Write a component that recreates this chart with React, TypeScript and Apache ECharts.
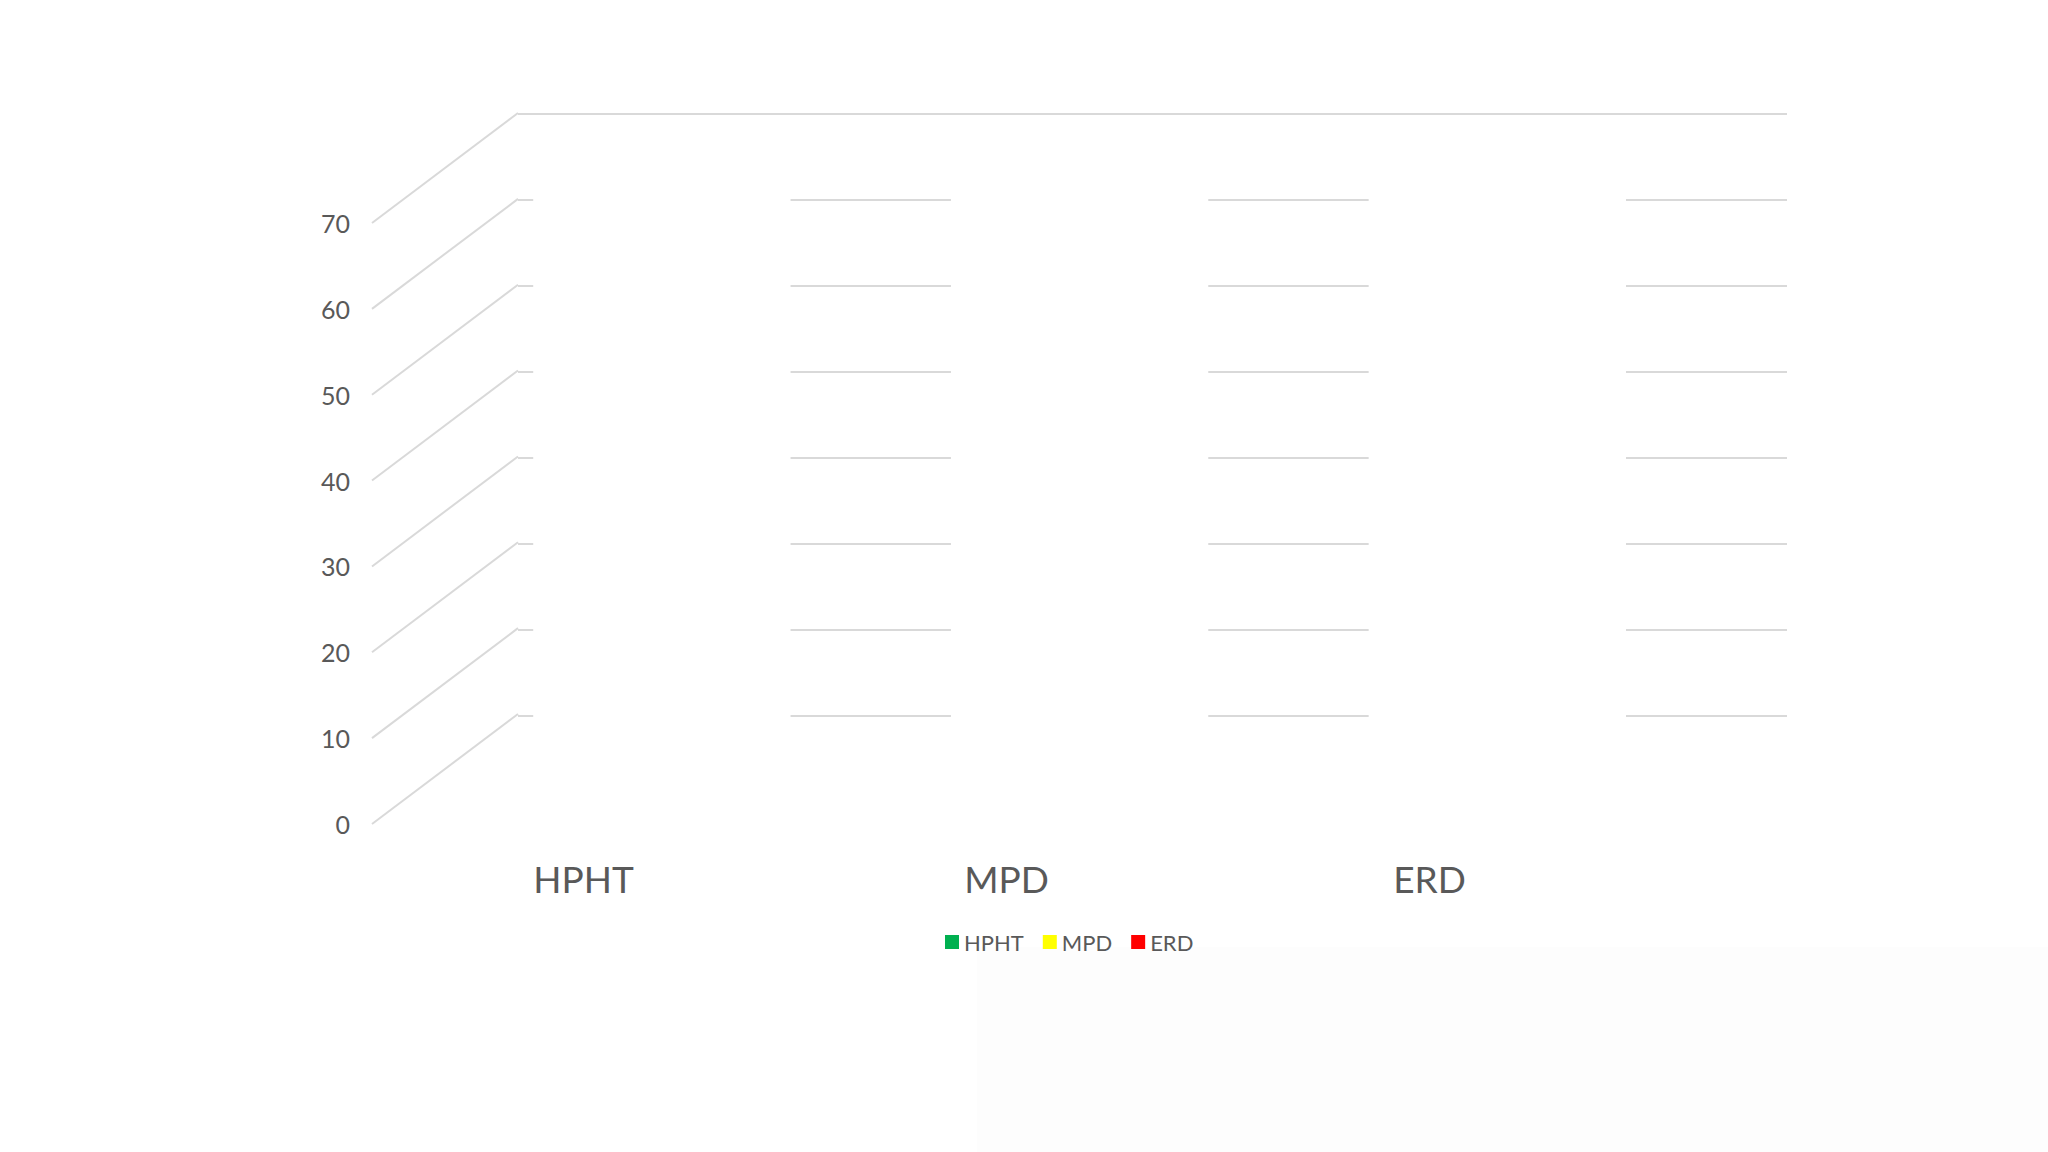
import { useEffect, useRef } from 'react';
import * as echarts from 'echarts';

// 类别与刻度
const categories = ['HPHT', 'MPD', 'ERD'];
const yTicks = [0, 10, 20, 30, 40, 50, 60, 70];

// 三个系列（柱体在原图中为白色，只能看出遮住了背景网格线）
const hphtValues = [65, 65, 65];
const mpdValues = [65, 65, 65];
const erdValues = [65, 65, 65];

const seriesNames = ['HPHT', 'MPD', 'ERD'];
const seriesColors = ['#00B050', '#FFFF00', '#FF0000'];

// 3D 透视偏移（前面 -> 后墙）
const DEPTH_X = 146;
const DEPTH_Y = -110;

const FONT = 'Lato, "Noto Sans", sans-serif';
const TEXT_COLOR = '#595959';
const GRID_COLOR = '#D9D9D9';

export default function App() {
  const chartRef = useRef<HTMLDivElement>(null);

  useEffect(() => {
    if (!chartRef.current) return;
    const chart = echarts.init(chartRef.current, null, { renderer: 'svg' });

    // 后墙上的白色柱体（带一点透视收缩）
    const boxSeries = (name: string, values: number[], k: number, color: string) => ({
      name,
      type: 'custom',
      xAxisIndex: 0,
      yAxisIndex: 0,
      itemStyle: { color },
      data: values.map((v, i) => [i, v]),
      renderItem: (params: any, api: any) => {
        const idx = api.value(0);
        const top = api.coord([idx, api.value(1)]);
        const base = api.coord([idx, 0]);
        const band = api.size([1, 0])[0];
        const boxLeft = top[0] - (0.464 + 0.0125 * idx) * band;
        const boxW = 0.606 * band;
        return {
          type: 'rect',
          shape: {
            x: boxLeft + (k * boxW) / 3,
            y: top[1],
            width: boxW / 3 + 1,
            height: base[1] - top[1] + 4
          },
          style: { fill: '#ffffff' }
        };
      }
    });

    const option = {
      animation: false,
      backgroundColor: '#ffffff',
      textStyle: { fontFamily: FONT },
      graphic: [{
        type: 'rect',
        left: 977,
        top: 947,
        shape: { width: 1071, height: 205 },
        style: { fill: '#FDFDFD' },
        z: -10
      }],
      legend: {
        left: 940,
        top: 926,
        icon: 'rect',
        itemWidth: 14,
        itemHeight: 14,
        itemGap: 19,
        textStyle: { color: TEXT_COLOR, fontSize: 22, fontFamily: FONT },
        data: seriesNames
      },
      grid: [
        // 后墙
        { left: 518, top: 114, width: 1269, height: 602 },
        // 前面（坐标标签）
        { left: 372, top: 223, width: 1269, height: 601 }
      ],
      xAxis: [{
        type: 'category',
        gridIndex: 0,
        data: categories,
        axisLine: { show: false },
        axisTick: { show: false },
        axisLabel: { show: false }
      }, {
        type: 'category',
        gridIndex: 1,
        data: categories,
        axisLine: { show: false },
        axisTick: { show: false },
        axisLabel: {
          margin: 36,
          fontSize: 37,
          color: TEXT_COLOR,
          fontFamily: FONT
        }
      }],
      yAxis: [{
        type: 'value',
        gridIndex: 0,
        min: 0,
        max: 70,
        interval: 10,
        axisLine: { show: false },
        axisTick: { show: false },
        axisLabel: { show: false },
        splitLine: { lineStyle: { color: GRID_COLOR, width: 2 } }
      }, {
        type: 'value',
        gridIndex: 1,
        min: 0,
        max: 70,
        interval: 10,
        axisLine: { show: false },
        axisTick: { show: false },
        splitLine: { show: false },
        axisLabel: {
          margin: 22,
          fontSize: 25,
          color: TEXT_COLOR,
          fontFamily: FONT
        }
      }],
      series: [
        boxSeries(seriesNames[0], hphtValues, 0, seriesColors[0]),
        boxSeries(seriesNames[1], mpdValues, 1, seriesColors[1]),
        boxSeries(seriesNames[2], erdValues, 2, seriesColors[2]),
        {
          // 左侧墙的斜线
          name: 'wall',
          type: 'custom',
          xAxisIndex: 1,
          yAxisIndex: 1,
          silent: true,
          data: yTicks.map((v) => [0, v]),
          renderItem: (params: any, api: any) => {
            const p = api.coord([0, api.value(1)]);
            const band = api.size([1, 0])[0];
            const x0 = p[0] - band / 2;
            return {
              type: 'line',
              shape: { x1: x0, y1: p[1], x2: x0 + DEPTH_X, y2: p[1] + DEPTH_Y },
              style: { stroke: GRID_COLOR, lineWidth: 2 }
            };
          }
        }
      ]
    };

    chart.setOption(option);
    return () => chart.dispose();
  }, []);

  return (
    <div
      ref={chartRef}
      style={{ position: 'fixed', left: 0, top: 0, width: 2048, height: 1152, background: '#fff' }}
    />
  );
}
